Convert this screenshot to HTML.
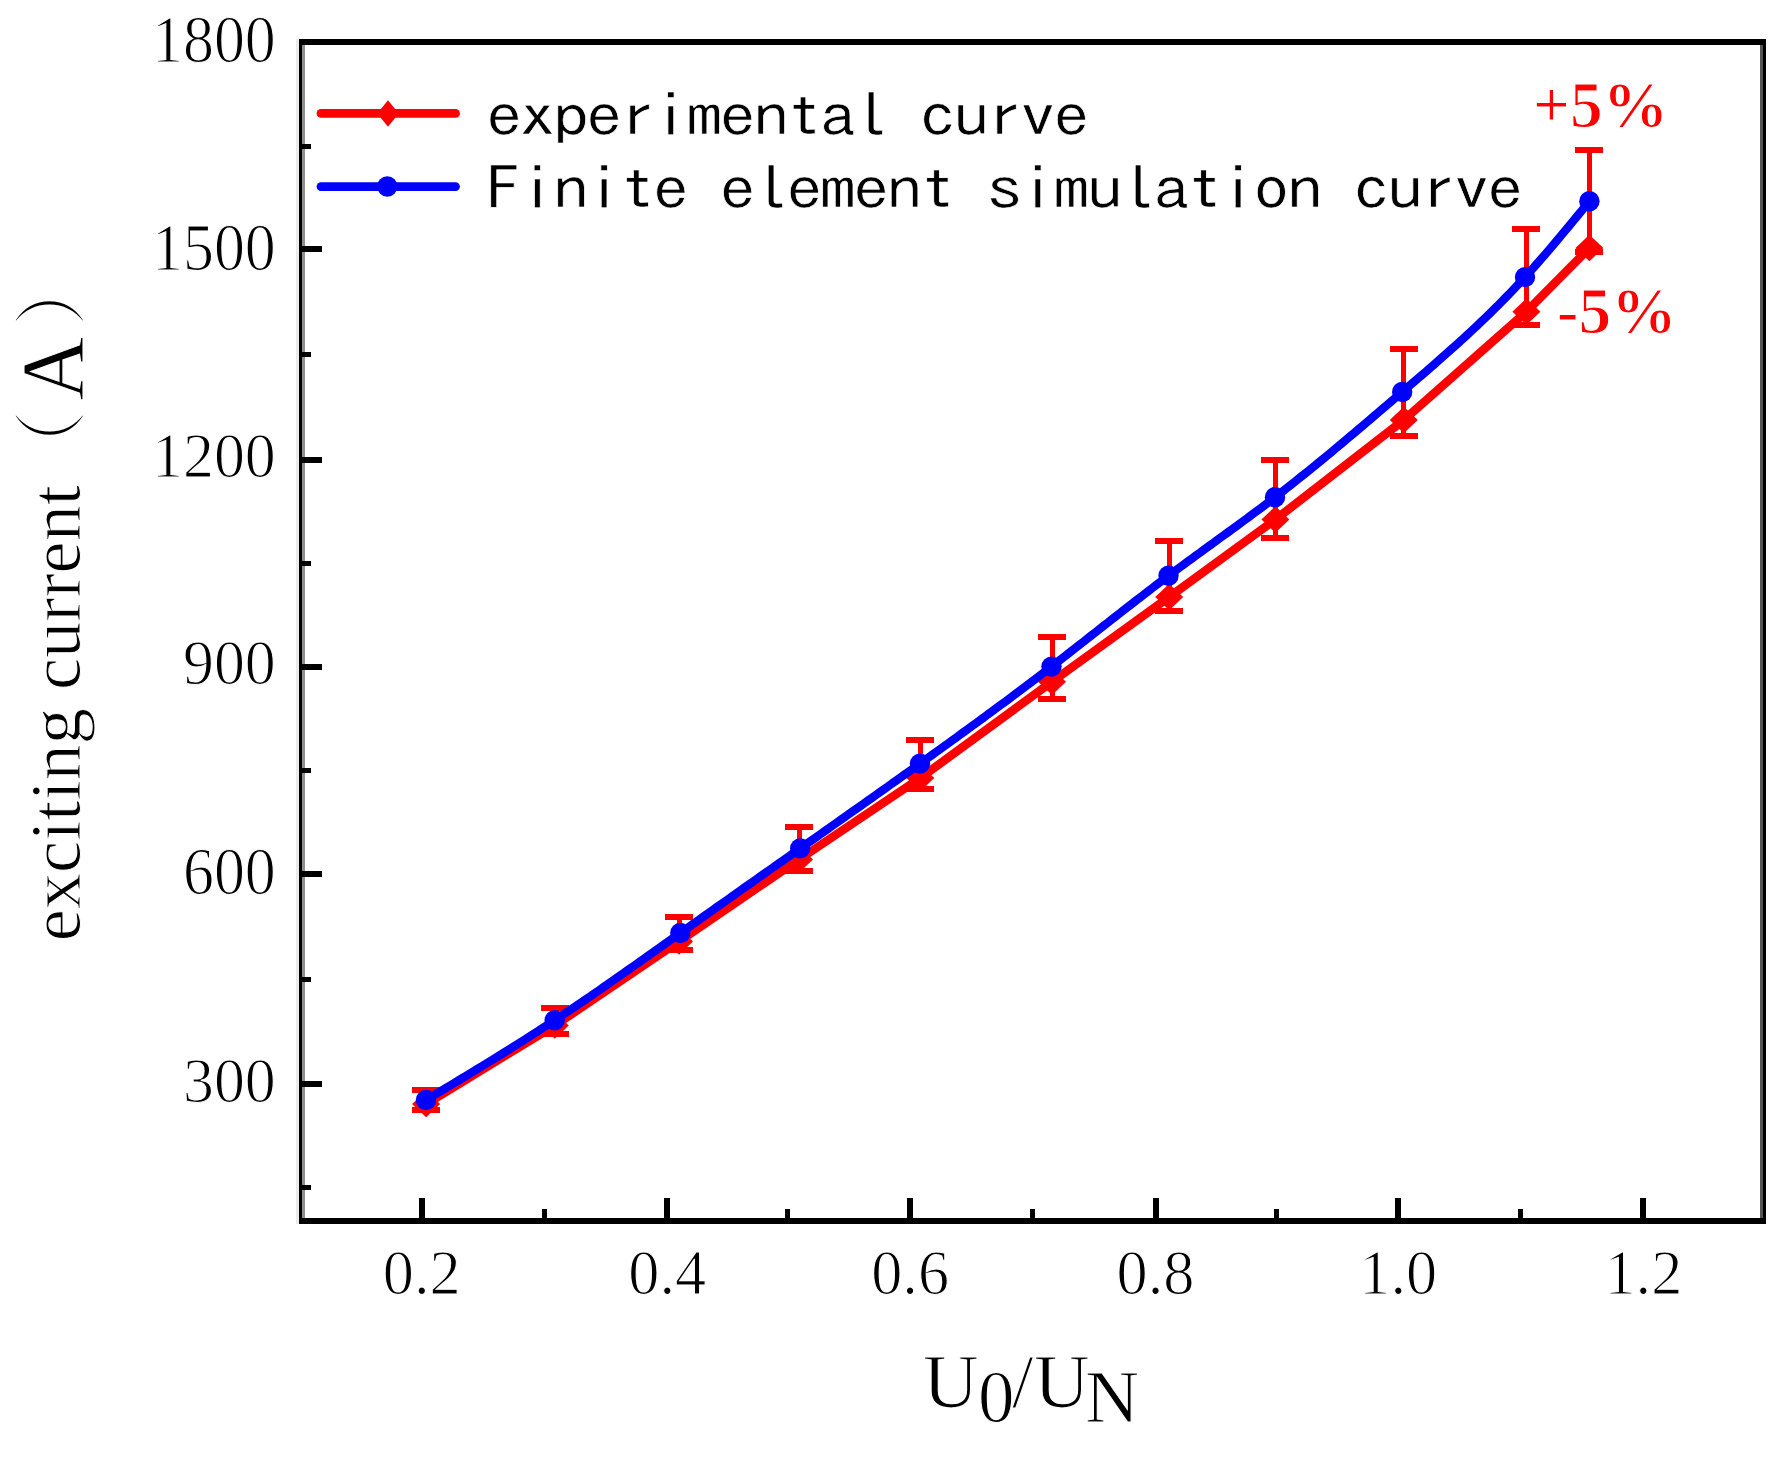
<!DOCTYPE html>
<html lang="en"><head><meta charset="utf-8"><title>Exciting current vs U0/UN</title>
<style>
html,body{margin:0;padding:0;background:#fff;}
svg{display:block;}
</style></head><body>
<svg width="1781" height="1458" viewBox="0 0 1781 1458" role="img" aria-label="Exciting current versus U0/UN: experimental curve and finite element simulation curve with 5% error bars">
<rect x="0" y="0" width="1781" height="1458" fill="#ffffff"/>
<g id="frame" shape-rendering="crispEdges">
<rect x="296" y="39" width="3" height="1185" fill="#ebebeb"/>
<rect x="299" y="39" width="3" height="1185" fill="#000"/>
<rect x="302" y="45" width="3" height="1173" fill="#8f8f8f"/>
<rect x="299" y="39" width="1467" height="6" fill="#000"/>
<rect x="299" y="1218" width="1467" height="6" fill="#000"/>
<rect x="1760" y="45" width="3" height="1173" fill="#555"/>
<rect x="1763" y="39" width="3" height="1185" fill="#000"/>
</g>
<g id="ticks" shape-rendering="crispEdges" fill="#000">
<rect x="302" y="246.3" width="20" height="6"/>
<rect x="302" y="456.5" width="20" height="6"/>
<rect x="302" y="663.6" width="20" height="6"/>
<rect x="302" y="871.0" width="20" height="6"/>
<rect x="302" y="1081.0" width="20" height="6"/>
<rect x="302" y="144.1" width="9" height="5"/>
<rect x="302" y="351.9" width="9" height="5"/>
<rect x="302" y="560.5" width="9" height="5"/>
<rect x="302" y="767.8" width="9" height="5"/>
<rect x="302" y="976.5" width="9" height="5"/>
<rect x="302" y="1185.0" width="9" height="5"/>
<rect x="418.7" y="1198" width="6" height="22"/>
<rect x="664.3" y="1198" width="6" height="22"/>
<rect x="907.1" y="1198" width="6" height="22"/>
<rect x="1152.5" y="1198" width="6" height="22"/>
<rect x="1395.2" y="1198" width="6" height="22"/>
<rect x="1640.4" y="1198" width="6" height="22"/>
<rect x="541.9" y="1209" width="5" height="11"/>
<rect x="784.6" y="1209" width="5" height="11"/>
<rect x="1030.3" y="1209" width="5" height="11"/>
<rect x="1274.4" y="1209" width="5" height="11"/>
<rect x="1518.1" y="1209" width="5" height="11"/>
</g>
<g id="ylabels" font-family="'Liberation Serif',serif" font-size="62" fill="#000" stroke="#fff" stroke-width="1.1" text-anchor="end">
<text transform="translate(275.8,62.4) scale(0.998,1.086)">1800</text>
<text transform="translate(275.8,270.1) scale(0.998,1.094)">1500</text>
<text transform="translate(275.8,477.1) scale(0.998,1.032)">1200</text>
<text transform="translate(275.8,684.2) scale(0.998,1.025)">900</text>
<text transform="translate(275.8,894.2) scale(0.998,1.096)">600</text>
<text transform="translate(275.8,1101.7) scale(0.998,1.039)">300</text>
</g>
<g id="xlabels" font-family="'Liberation Serif',serif" font-size="62" fill="#000" stroke="#fff" stroke-width="1.1" text-anchor="middle">
<text transform="translate(421.7,1294) scale(1.005,1.035)">0.2</text>
<text transform="translate(667.3,1294) scale(1.005,1.035)">0.4</text>
<text transform="translate(910.1,1294) scale(1.005,1.035)">0.6</text>
<text transform="translate(1155.5,1294) scale(1.005,1.035)">0.8</text>
<text transform="translate(1398.2,1294) scale(1.005,1.035)">1.0</text>
<text transform="translate(1643.4,1294) scale(1.005,1.035)">1.2</text>
</g>
<text id="ytitle" transform="translate(80.2,941.3) rotate(-90)" font-family="'Liberation Serif','Noto Serif CJK SC',serif" font-size="72.4" fill="#000" stroke="#fff" stroke-width="1.0">exciting current<tspan x="457.6" dy="-3.3" font-size="74" stroke-width="1.5" font-family="'Noto Serif CJK SC',serif">（</tspan><tspan x="540.7" dy="5.3" font-size="88">A</tspan><tspan x="615" dy="-5.3" font-size="74" stroke-width="1.5" font-family="'Noto Serif CJK SC',serif">）</tspan></text>
<text id="xtitle" font-family="'Liberation Serif',serif" fill="#000" stroke="#fff" stroke-width="1.1" font-size="77"><tspan x="923" y="1406.5">U</tspan><tspan x="978" y="1422" font-size="73">0</tspan><tspan x="1012" y="1406.5">/</tspan><tspan x="1034" y="1406.5">U</tspan><tspan x="1085" y="1422" font-size="75">N</tspan></text>
<g id="series-experimental">
<g fill="#ff0000" shape-rendering="crispEdges">
<rect x="423.6" y="1090.0" width="5" height="20.0"/>
<rect x="412.1" y="1087.0" width="28" height="6"/>
<rect x="412.1" y="1107.0" width="28" height="6"/>
<rect x="552.3" y="1008.0" width="5" height="25.8"/>
<rect x="540.8" y="1005.0" width="28" height="6"/>
<rect x="540.8" y="1030.8" width="28" height="6"/>
<rect x="676.5" y="917.3" width="5" height="32.6"/>
<rect x="665.0" y="914.3" width="28" height="6"/>
<rect x="665.0" y="946.9" width="28" height="6"/>
<rect x="796.5" y="827.0" width="5" height="44.0"/>
<rect x="785.0" y="824.0" width="28" height="6"/>
<rect x="785.0" y="868.0" width="28" height="6"/>
<rect x="917.8" y="739.7" width="5" height="49.3"/>
<rect x="906.3" y="736.7" width="28" height="6"/>
<rect x="906.3" y="786.0" width="28" height="6"/>
<rect x="1049.5" y="637.4" width="5" height="61.6"/>
<rect x="1038.0" y="634.4" width="28" height="6"/>
<rect x="1038.0" y="696.0" width="28" height="6"/>
<rect x="1166.7" y="541.0" width="5" height="69.8"/>
<rect x="1155.2" y="538.0" width="28" height="6"/>
<rect x="1155.2" y="607.8" width="28" height="6"/>
<rect x="1272.9" y="459.5" width="5" height="78.5"/>
<rect x="1261.4" y="456.5" width="28" height="6"/>
<rect x="1261.4" y="535.0" width="28" height="6"/>
<rect x="1401.3" y="348.7" width="5" height="87.3"/>
<rect x="1389.8" y="345.7" width="28" height="6"/>
<rect x="1389.8" y="433.0" width="28" height="6"/>
<rect x="1523.9" y="229.0" width="5" height="96.2"/>
<rect x="1512.4" y="226.0" width="28" height="6"/>
<rect x="1512.4" y="322.2" width="28" height="6"/>
<rect x="1586.9" y="150.0" width="5" height="102.0"/>
<rect x="1575.4" y="147.0" width="28" height="6"/>
<rect x="1575.4" y="249.0" width="28" height="6"/>
</g>
<polyline points="426.1,1104.0 554.8,1025.5 679.0,941.5 799.0,859.5 920.3,778.0 1052.0,681.7 1169.2,597.0 1275.4,519.5 1403.8,420.0 1526.4,311.7 1589.4,248.0" fill="none" stroke="#ff0000" stroke-width="8.6" stroke-linejoin="round" stroke-linecap="round"/>
<polygon points="426.1,1090.7 440.1,1104.0 426.1,1117.3 412.1,1104.0" fill="#ff0000"/>
<polygon points="554.8,1012.2 568.8,1025.5 554.8,1038.8 540.8,1025.5" fill="#ff0000"/>
<polygon points="679.0,928.2 693.0,941.5 679.0,954.8 665.0,941.5" fill="#ff0000"/>
<polygon points="799.0,846.2 813.0,859.5 799.0,872.8 785.0,859.5" fill="#ff0000"/>
<polygon points="920.3,764.7 934.3,778.0 920.3,791.3 906.3,778.0" fill="#ff0000"/>
<polygon points="1052.0,668.4 1066.0,681.7 1052.0,695.0 1038.0,681.7" fill="#ff0000"/>
<polygon points="1169.2,583.7 1183.2,597.0 1169.2,610.3 1155.2,597.0" fill="#ff0000"/>
<polygon points="1275.4,506.2 1289.4,519.5 1275.4,532.8 1261.4,519.5" fill="#ff0000"/>
<polygon points="1403.8,406.7 1417.8,420.0 1403.8,433.3 1389.8,420.0" fill="#ff0000"/>
<polygon points="1526.4,298.4 1540.4,311.7 1526.4,325.0 1512.4,311.7" fill="#ff0000"/>
<polygon points="1589.4,234.7 1603.4,248.0 1589.4,261.3 1575.4,248.0" fill="#ff0000"/>
</g>
<g id="series-simulation">
<polyline points="426.0,1100.0 430.0,1097.6 434.0,1095.2 438.1,1092.7 442.1,1090.3 446.1,1087.9 450.1,1085.5 454.2,1083.1 458.2,1080.6 462.2,1078.2 466.2,1075.8 470.2,1073.3 474.3,1070.9 478.3,1068.4 482.3,1066.0 486.3,1063.5 490.4,1061.0 494.4,1058.6 498.4,1056.1 502.4,1053.6 506.4,1051.1 510.5,1048.6 514.5,1046.0 518.5,1043.5 522.5,1041.0 526.5,1038.4 530.6,1035.8 534.6,1033.3 538.6,1030.7 542.6,1028.1 546.7,1025.5 550.7,1022.8 554.7,1020.2 558.8,1017.5 562.8,1014.8 566.9,1012.1 570.9,1009.4 575.0,1006.7 579.0,1003.9 583.1,1001.2 587.1,998.4 591.2,995.7 595.2,992.9 599.3,990.1 603.3,987.3 607.4,984.5 611.4,981.6 615.5,978.8 619.5,976.0 623.6,973.1 627.6,970.3 631.7,967.4 635.7,964.6 639.8,961.7 643.8,958.9 647.9,956.0 651.9,953.1 656.0,950.2 660.0,947.4 664.1,944.5 668.1,941.6 672.2,938.7 676.2,935.9 680.3,933.0 684.3,930.2 688.3,927.3 692.3,924.5 696.3,921.7 700.3,918.8 704.3,916.0 708.3,913.2 712.3,910.4 716.3,907.5 720.3,904.7 724.3,901.9 728.3,899.1 732.3,896.3 736.3,893.4 740.2,890.6 744.2,887.8 748.2,885.0 752.2,882.2 756.2,879.4 760.2,876.5 764.2,873.7 768.2,870.9 772.2,868.1 776.2,865.3 780.2,862.5 784.2,859.7 788.2,856.8 792.2,854.0 796.2,851.2 800.2,848.4 804.2,845.6 808.2,842.8 812.2,840.0 816.2,837.2 820.2,834.3 824.2,831.5 828.2,828.7 832.1,825.9 836.1,823.1 840.1,820.3 844.1,817.5 848.1,814.6 852.1,811.8 856.1,809.0 860.1,806.2 864.1,803.3 868.1,800.5 872.1,797.7 876.1,794.9 880.1,792.0 884.1,789.2 888.1,786.4 892.0,783.5 896.0,780.7 900.0,777.8 904.0,775.0 908.0,772.2 912.0,769.3 916.0,766.5 920.0,763.6 924.0,760.7 928.0,757.9 932.0,755.0 935.9,752.2 939.9,749.3 943.9,746.4 947.9,743.6 951.9,740.7 955.9,737.8 959.8,734.9 963.8,732.0 967.8,729.1 971.8,726.2 975.8,723.3 979.8,720.4 983.8,717.5 987.7,714.5 991.7,711.6 995.7,708.7 999.7,705.7 1003.7,702.8 1007.7,699.8 1011.7,696.8 1015.6,693.8 1019.6,690.8 1023.6,687.8 1027.6,684.8 1031.6,681.8 1035.6,678.8 1039.5,675.8 1043.5,672.7 1047.5,669.7 1051.5,666.6 1055.5,663.5 1059.6,660.4 1063.6,657.2 1067.6,654.1 1071.7,650.9 1075.7,647.8 1079.7,644.6 1083.8,641.5 1087.8,638.3 1091.8,635.1 1095.9,632.0 1099.9,628.8 1103.9,625.6 1108.0,622.5 1112.0,619.3 1116.1,616.1 1120.1,613.0 1124.1,609.8 1128.2,606.7 1132.2,603.6 1136.2,600.4 1140.3,597.3 1144.3,594.2 1148.3,591.1 1152.4,588.0 1156.4,584.9 1160.4,581.9 1164.5,578.8 1168.5,575.8 1172.4,572.9 1176.4,569.9 1180.3,567.0 1184.3,564.1 1188.2,561.2 1192.2,558.3 1196.1,555.4 1200.1,552.6 1204.0,549.7 1207.9,546.8 1211.9,544.0 1215.8,541.1 1219.8,538.2 1223.7,535.4 1227.7,532.5 1231.6,529.6 1235.6,526.8 1239.5,523.9 1243.4,521.0 1247.4,518.1 1251.3,515.1 1255.3,512.2 1259.2,509.3 1263.2,506.3 1267.1,503.3 1271.1,500.3 1275.0,497.3 1279.0,494.2 1283.0,491.1 1286.9,488.0 1290.9,484.9 1294.9,481.8 1298.8,478.6 1302.8,475.4 1306.8,472.2 1310.8,469.0 1314.8,465.8 1318.7,462.5 1322.7,459.2 1326.7,456.0 1330.7,452.7 1334.6,449.4 1338.6,446.1 1342.6,442.7 1346.5,439.4 1350.5,436.0 1354.5,432.7 1358.5,429.3 1362.5,426.0 1366.4,422.6 1370.4,419.2 1374.4,415.8 1378.4,412.4 1382.3,409.0 1386.3,405.6 1390.3,402.2 1394.2,398.8 1398.2,395.4 1402.2,392.0 1406.2,388.6 1410.1,385.2 1414.1,381.8 1418.0,378.4 1422.0,375.0 1426.0,371.6 1429.9,368.1 1433.9,364.7 1437.9,361.2 1441.8,357.7 1445.8,354.2 1449.7,350.7 1453.7,347.2 1457.7,343.6 1461.6,340.0 1465.6,336.4 1469.5,332.7 1473.5,329.0 1477.5,325.3 1481.4,321.5 1485.4,317.7 1489.3,313.9 1493.3,310.0 1497.3,306.1 1501.2,302.1 1505.2,298.0 1509.2,294.0 1513.1,289.8 1517.1,285.6 1521.0,281.4 1525.0,277.1 1529.0,272.7 1533.0,268.2 1537.1,263.6 1541.1,259.0 1545.1,254.4 1549.2,249.7 1553.2,245.0 1557.2,240.2 1561.2,235.4 1565.2,230.6 1569.3,225.7 1573.3,220.9 1577.3,216.0 1581.4,211.1 1585.4,206.2 1589.4,201.3" fill="none" stroke="#0000ff" stroke-width="8.4" stroke-linejoin="round" stroke-linecap="round"/>
<circle cx="426.0" cy="1100.0" r="10.2" fill="#0000ff"/>
<circle cx="554.7" cy="1020.2" r="10.2" fill="#0000ff"/>
<circle cx="680.3" cy="933.0" r="10.2" fill="#0000ff"/>
<circle cx="800.2" cy="848.4" r="10.2" fill="#0000ff"/>
<circle cx="920.0" cy="763.6" r="10.2" fill="#0000ff"/>
<circle cx="1051.5" cy="666.6" r="10.2" fill="#0000ff"/>
<circle cx="1168.5" cy="575.8" r="10.2" fill="#0000ff"/>
<circle cx="1275.0" cy="497.3" r="10.2" fill="#0000ff"/>
<circle cx="1402.2" cy="392.0" r="10.2" fill="#0000ff"/>
<circle cx="1525.0" cy="277.1" r="10.2" fill="#0000ff"/>
<circle cx="1589.4" cy="201.3" r="10.2" fill="#0000ff"/>
</g>
<g id="legend">
<line x1="321" y1="113.4" x2="455.5" y2="113.4" stroke="#ff0000" stroke-width="8.8" stroke-linecap="round"/>
<polygon points="388,100.3 398.8,113.5 388,126.7 377.2,113.5" fill="#ff0000"/>
<line x1="321" y1="186.6" x2="455.5" y2="186.6" stroke="#0000ff" stroke-width="8.8" stroke-linecap="round"/>
<circle cx="387.3" cy="186.5" r="10.2" fill="#0000ff"/>
<text transform="translate(485.5,136.8) scale(1.25,1)" letter-spacing="-3.05" font-family="IPAGothic,'Liberation Mono',monospace" font-size="59.5" fill="#000" stroke="#fff" stroke-width="0.6">experimental curve</text>
<text transform="translate(485.5,210) scale(1.25,1)" letter-spacing="-3.05" font-family="IPAGothic,'Liberation Mono',monospace" font-size="59.5" fill="#000" stroke="#fff" stroke-width="0.6">Finite element simulation curve</text>
</g>
<text x="1532.8" y="127.2" font-family="'Liberation Serif',serif" font-weight="bold" font-size="65.5" fill="#ff0000" stroke="#fff" stroke-width="1.2">+5%</text>
<text x="1556.8" y="333" font-family="'Liberation Serif',serif" font-weight="bold" font-size="65.5" fill="#ff0000" stroke="#fff" stroke-width="1.2">-5%</text>
</svg>
</body></html>
